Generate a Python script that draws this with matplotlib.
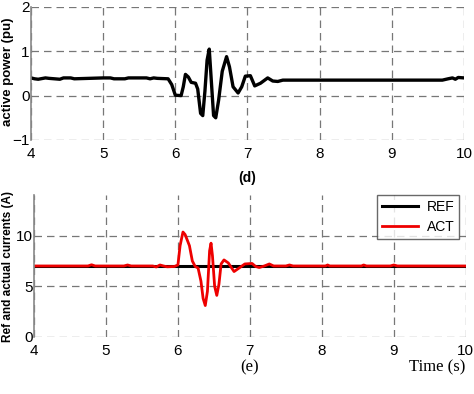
import matplotlib
matplotlib.use('Agg')
import matplotlib.pyplot as plt

# (d) active power
p_time = [4.00, 4.05, 4.10, 4.20, 4.25, 4.40, 4.45, 4.55, 4.60, 5.00, 5.10, 5.15,
          5.30, 5.35, 5.60, 5.65, 5.70, 5.75, 5.90, 5.95, 6.00, 6.08, 6.11, 6.14,
          6.18, 6.22, 6.28, 6.31, 6.35, 6.38, 6.41, 6.44, 6.47, 6.50, 6.53, 6.56,
          6.60, 6.65, 6.71, 6.75, 6.80, 6.87, 6.92, 6.97, 7.04, 7.10, 7.18, 7.28,
          7.35, 7.42, 7.49, 9.70, 9.78, 9.84, 9.88, 9.92, 10.00]
p_power = [0.40, 0.38, 0.37, 0.40, 0.39, 0.37, 0.40, 0.40, 0.38, 0.40, 0.40, 0.38,
           0.38, 0.40, 0.40, 0.38, 0.40, 0.39, 0.38, 0.25, 0.01, 0.00, 0.20, 0.48,
           0.42, 0.30, 0.28, 0.15, -0.40, -0.45, 0.10, 0.80, 1.05, 0.30, -0.45, -0.50,
           -0.10, 0.55, 0.88, 0.65, 0.20, 0.06, 0.20, 0.44, 0.45, 0.22, 0.28, 0.40,
           0.33, 0.32, 0.35, 0.35, 0.38, 0.40, 0.37, 0.41, 0.40]

# (e) reference and actual currents
ref_time = [4.0, 10.0]
ref_current = [7.0, 7.0]
act_time = [4.00, 4.75, 4.80, 4.85, 5.25, 5.30, 5.35, 5.65, 5.70, 5.75, 5.80, 5.85,
            5.95, 6.00, 6.03, 6.07, 6.10, 6.16, 6.20, 6.24, 6.28, 6.32, 6.35, 6.38,
            6.41, 6.44, 6.46, 6.48, 6.51, 6.54, 6.57, 6.60, 6.64, 6.70, 6.78, 6.85,
            6.93, 7.03, 7.08, 7.13, 7.20, 7.27, 7.33, 7.50, 7.55, 7.60, 8.05, 8.08,
            8.11, 8.55, 8.58, 8.62, 8.95, 9.00, 9.05, 10.00]
act_current = [7.0, 7.0, 7.12, 7.0, 7.0, 7.1, 7.0, 7.0, 6.9, 7.1, 7.0, 6.92,
               6.95, 7.1, 9.0, 10.35, 10.1, 9.0, 7.5, 6.95, 6.8, 5.5, 3.8, 3.1,
               4.5, 8.5, 9.25, 8.0, 5.0, 4.1, 5.2, 7.2, 7.6, 7.3, 6.45, 6.8,
               7.2, 7.25, 6.95, 6.85, 7.0, 7.2, 7.0, 7.0, 7.1, 7.0, 7.0, 7.1,
               7.0, 7.0, 7.1, 7.0, 7.0, 7.1, 7.0, 7.0]

x_ticks = [4, 5, 6, 7, 8, 9, 10]

plt.rcParams['font.family'] = ['Liberation Sans', 'DejaVu Sans']

fig = plt.figure(figsize=(4.74, 3.94), dpi=100)
ax1 = fig.add_axes([0.0654, 0.6447, 0.9135, 0.3376])
ax2 = fig.add_axes([0.0717, 0.1447, 0.911, 0.3604])

for ax in (ax1, ax2):
    for s in ('top', 'right', 'bottom'):
        ax.spines[s].set_visible(False)
    ax.spines['left'].set_color('#888888')
    ax.spines['left'].set_linewidth(1.2)
    ax.grid(True, linestyle=(0, (6, 4)), color='#777777', linewidth=0.9)
    ax.set_xlim(4, 10)
    ax.set_xticks(x_ticks)
    ax.tick_params(length=0, labelsize=11)
    ax.tick_params(axis='x', pad=5)
    ax.tick_params(axis='y', pad=1)
    ax.set_axisbelow(True)

ax1.plot(p_time, p_power, color='black', linewidth=2.4)
ax1.set_ylim(-1, 2)
ax1.set_yticks([-1, 0, 1, 2])
fig.text(8 / 474, 1 - 72 / 394, 'active power (pu)', rotation=90, ha='center',
         va='center', fontsize=9.5, fontweight='bold')
ax1.text(7.0, -1.85, '(d)', ha='center', va='center', fontsize=10, fontweight='bold')

ax2.plot(ref_time, ref_current, color='black', linewidth=2.2, label='REF')
ax2.plot(act_time, act_current, color='#ee0000', linewidth=2.0, label='ACT')
ax2.set_ylim(0, 14)
ax2.set_yticks([0, 5, 10])
fig.text(8 / 474, 1 - 266 / 394, 'Ref and actual currents (A)', rotation=90,
         ha='center', va='center', fontsize=8.5, fontweight='bold')
ax2.text(7.0, -3.0, '(e)', ha='center', va='center', fontsize=12,
         family=['Liberation Serif', 'DejaVu Serif'])
ax2.text(10.0, -3.0, 'Time (s)', ha='right', va='center', fontsize=12,
         family=['Liberation Serif', 'DejaVu Serif'])
leg = ax2.legend(loc='upper right', bbox_to_anchor=(0.985, 1.0), fontsize=10,
                 frameon=True, fancybox=False, edgecolor='#444444',
                 handlelength=2.6, handletextpad=0.6, borderpad=0.35,
                 labelspacing=0.45, borderaxespad=0.0)
leg.get_frame().set_linewidth(1.0)

fig.savefig('out.png', dpi=100)
